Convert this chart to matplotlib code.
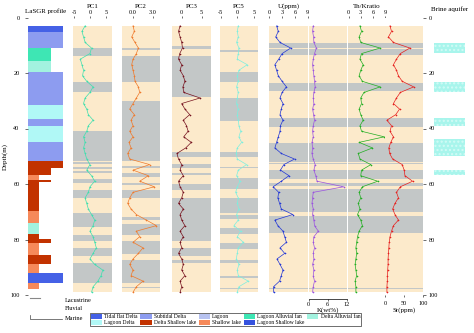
import matplotlib
matplotlib.use("Agg")
from matplotlib import pyplot as plt
from matplotlib.patches import Patch
from matplotlib.lines import Line2D

plt.rcParams['font.family'] = ['Liberation Serif', 'DejaVu Serif']
plt.rcParams['axes.unicode_minus'] = False

# ---- log data ----
depth = [3, 5, 7, 9, 11, 13, 15, 17, 19, 21, 23, 25, 27, 29, 31, 33, 35, 37, 39, 41,
         43, 45, 47, 49, 51, 53, 55, 57, 59, 61, 63, 65, 67, 69, 71, 73, 75, 77, 79, 81,
         83, 85, 87, 89, 91, 93, 95, 97, 99]

pc1 = [-1.5, -2.5, -2.0, -1.5, 0.5, 0.0, -3.0, -2.5, -2.0, -2.3, -1.0, 1.0, 0.0, -1.5, -2.0,
       -1.0, -0.5, 1.0, -0.5, -1.0, -2.0, -1.5, -2.0, -1.5, -1.0, 0.0, -1.0, 0.5, 1.5, 0.0,
       -0.5, -1.5, -1.0, -0.5, 0.5, 1.5, 1.0, 0.0, 1.0, 1.5, 2.0, 1.0, 0.0, 1.5, 4.0,
       3.5, 2.5, 1.0, 0.5]
pc2 = [0.0, 0.2, -0.2, 0.3, 0.8, 0.5, 0.0, -0.2, 0.0, 0.2, 0.3, 0.8, 1.0, 0.5, 0.0,
       -0.5, 0.2, -0.3, 0.0, -0.5, 0.0, -0.6, -0.3, -0.8, -0.5, 2.5, 0.0, 2.3, 1.0, 3.2,
       0.0, -0.5, -0.8, -0.3, 0.5, 2.0, 3.5, 0.5, 1.0, 0.0, 1.5, 0.8, 0.0, -0.5, 0.0,
       -0.3, 1.5, 0.5, 0.0]
pc3 = [-0.4, -0.8, -0.4, 0.0, 0.2, -0.5, -0.8, 0.0, -0.4, 0.4, 0.8, 0.3, 0.5, 4.6, 0.0,
       0.8, 2.0, 0.4, 1.2, 1.6, 0.5, 2.4, 1.0, -1.2, -0.8, 0.0, -0.4, 0.4, -0.8, -0.4,
       0.4, 0.0, -0.8, 0.4, -0.4, 0.0, 0.8, -0.4, 0.4, -0.4, 0.0, -0.8, 0.0, 0.4, 0.0,
       0.8, -0.4, 0.0, -0.4]
pc5 = [0.3, 0.0, 0.3, -0.2, 0.5, 0.3, 0.0, 3.0, 0.5, 0.0, 0.3, -0.2, 0.3, 0.0, -0.2,
       0.3, 0.0, 0.3, 0.5, 1.0, 0.5, 1.3, 0.0, -0.3, 0.0, 2.8, 0.3, -0.2, 0.8, 0.0,
       -0.5, 0.3, 0.0, 0.5, -0.2, 0.3, -1.0, 1.0, 0.0, 1.8, 0.3, 0.0, -0.3, 0.5, 0.0,
       0.3, 3.3, 0.5, 0.0]
u_ppm = [1.7, 2.1, 1.5, 2.5, 5.0, 3.0, 2.2, 1.3, 1.7, 2.1, 3.0, 4.0, 3.0, 2.5, 3.2,
         2.8, 2.5, 3.2, 2.6, 2.5, 2.1, 1.7, 1.3, 2.8, 5.9, 3.4, 2.6, 4.6, 2.8, 0.9,
         2.2, 2.0, 2.4, 2.8, 5.5, 1.3, 2.0, 3.2, 3.6, 4.0, 2.5, 3.6, 1.8, 2.5, 3.2,
         2.8, 2.4, 1.0, 1.0]
k_wt = [1.4, 1.2, 1.5, 1.6, 2.4, 1.8, 1.4, 1.2, 1.4, 1.6, 1.8, 2.0, 1.6, 1.4, 1.6,
        1.2, 1.5, 1.8, 1.4, 1.2, 1.4, 1.0, 1.2, 1.0, 1.4, 2.0, 1.6, 2.2, 2.6, 11.0,
        1.4, 1.2, 1.0, 1.4, 1.2, 1.6, 1.8, 3.0, 1.6, 1.4, 1.8, 1.4, 1.6, 1.2, 1.6,
        1.4, 1.8, 1.4, 1.2]
th_k = [2.8, 3.2, 2.6, 3.0, 7.8, 3.2, 2.8, 3.6, 3.0, 2.6, 3.4, 7.8, 3.8, 3.0, 3.2,
        2.6, 3.0, 3.6, 2.8, 3.2, 8.8, 2.6, 5.9, 2.4, 2.8, 5.5, 3.2, 3.0, 7.2, 3.4,
        2.6, 3.0, 2.4, 2.8, 2.2, 3.0, 3.4, 2.6, 2.2, 2.0, 1.8, 2.0, 1.8, 1.6, 1.8,
        2.0, 1.6, 1.8, 1.8]
sr_ppm = [13, 17, 9, 22, 65, 40, 30, 22, 30, 35, 45, 75, 40, 30, 22, 38, 28, 5, 17, 13,
          22, 15, 10, 12, 20, 45, 50, 52, 72, 40, 30, 35, 26, 20, 26, 35, 22, 17, 13, 11,
          10, 9, 8, 8, 7, 6, 6, 5, 5]

# gray (cluster) intervals per track: (top, bottom) depth in m
pc1_bands = [(10.9, 13.8), (23.4, 27.0), (40.9, 51.6), (52.2, 52.9), (53.8, 54.6),
             (55.2, 55.9), (58.3, 59.8), (62.2, 65.2), (70.3, 75.4), (78.4, 80.5),
             (83.2, 85.9), (88.6, 95.8)]
pc2_bands = [(10.9, 11.7), (13.8, 23.1), (30.1, 51.6), (53.4, 54.4), (55.9, 57.4),
             (59.5, 60.4), (62.2, 65.2), (71.8, 73.0), (74.4, 78.4), (80.5, 85.3),
             (87.4, 95.8), (97.0, 97.6)]
pc3_bands = [(10.3, 11.5), (13.8, 28.8), (48.3, 50.1), (52.8, 54.4), (55.9, 56.8),
             (60.1, 62.2), (64.9, 80.5), (83.2, 85.9), (87.4, 88.6)]
pc5_bands = [(11.7, 12.3), (19.5, 23.4), (28.9, 37.3), (48.6, 50.1), (53.8, 54.4),
             (57.7, 61.9), (64.9, 70.3), (71.2, 72.6), (76.0, 78.1), (81.4, 83.5),
             (87.4, 88.6), (93.0, 94.0), (97.6, 98.0)]
geo_bands = [(9.1, 11.1), (11.4, 13.5), (23.5, 26.4), (36.1, 39.6), (45.1, 51.9),
             (52.6, 52.9), (55.0, 58.3), (59.8, 60.6), (61.9, 70.0), (71.5, 77.8),
             (97.6, 98.0)]

# brine aquifer intervals
brine_top = [9.1, 23.4, 36.1, 43.9, 55.0]
brine_bottom = [12.9, 26.7, 39.1, 49.9, 56.8]

# lithology (LaSGR profile)
litho_top = [2.9, 5.3, 10.9, 15.6, 19.5, 31.5, 36.6, 39.1, 44.7, 51.6, 54.3, 56.8,
             58.6, 59.4, 69.9, 74.2, 78.1, 79.8, 81.1, 85.6, 88.9, 92.2, 95.8]
litho_bottom = [5.3, 10.9, 15.6, 19.5, 31.5, 36.6, 39.1, 44.7, 51.6, 54.3, 56.8, 58.6,
                59.4, 69.9, 74.2, 78.1, 79.8, 81.1, 85.6, 88.9, 92.2, 95.8, 98.0]
litho_grain = [1.0, 1.0, 0.67, 0.67, 1.0, 1.0, 1.0, 1.0, 1.0, 1.0, 0.67, 0.32,
               0.67, 0.32, 0.32, 0.32, 0.32, 0.67, 0.32, 0.67, 0.32, 1.0, 0.32]
litho_facies = ['Tidal flat Delta', 'Subtidal Delta', 'Lagoon Alluvial fan',
                'Delta Alluvial fan', 'Subtidal Delta', 'Lagoon Delta', 'Subtidal Delta',
                'Lagoon Delta', 'Subtidal Delta', 'Delta Shallow lake', 'Delta Shallow lake',
                'Shallow lake', 'Delta Shallow lake', 'Delta Shallow lake', 'Shallow lake',
                'Delta Alluvial fan', 'Delta Shallow lake', 'Delta Shallow lake',
                'Shallow lake', 'Delta Shallow lake', 'Shallow lake', 'Tidal flat Delta',
                'Shallow lake']

facies_colors = {
    'Tidal flat Delta': '#4561E6',
    'Subtidal Delta': '#8D9CF0',
    'Lagoon': '#B7C2F0',
    'Lagoon Alluvial fan': '#3EE6B4',
    'Delta Alluvial fan': '#A2F2DF',
    'Lagoon Delta': '#B0F8F6',
    'Delta Shallow lake': '#C23200',
    'Shallow lake': '#F6895A',
    'Lagoon Shallow lake': '#3552DE',
}

TAN = '#FCEACB'
GRAY = '#C3C7C7'
W, H = 474, 333
Y_TOP, Y_BOT = 17.5, 295

fig = plt.figure(figsize=(W / 100, H / 100), dpi=100)


def add_track(x0, x1):
    return fig.add_axes([x0 / W, 1 - Y_BOT / H, (x1 - x0) / W, (Y_BOT - Y_TOP) / H])


def style_track(ax, bands):
    ax.axhspan(3, 99, color=TAN, lw=0, zorder=0)
    for top, bot in bands:
        ax.axhspan(top, bot, color=GRAY, lw=0, zorder=1)
    ax.set_ylim(100, 0)
    for s in ax.spines.values():
        s.set_visible(False)
    ax.set_yticks([])
    ax.tick_params(axis='x', labelsize=4.5, length=1.5, width=0.4, pad=0.5)


def top_axis(ax, title, ticks, labels=None):
    ax.xaxis.tick_top()
    ax.set_xticks(ticks)
    if labels:
        ax.set_xticklabels(labels)
    ax.set_title(title, fontsize=5, pad=1.5)


def draw_curve(ax, values, color):
    ax.plot(values, depth, color=color, lw=0.5, marker='+', ms=2, mew=0.4, zorder=3)


# lithology column
ax_l = add_track(28, 63)
ax_l.barh(litho_top, litho_grain,
          height=[b - t for t, b in zip(litho_top, litho_bottom)],
          align='edge', color=[facies_colors[f] for f in litho_facies], lw=0)
ax_l.set_xlim(0, 1)
ax_l.set_ylim(100, 0)
for s in ax_l.spines.values():
    s.set_visible(False)
ax_l.set_xticks([])
ax_l.set_yticks([0, 20, 40, 60, 80, 100])
ax_l.tick_params(axis='y', labelsize=4.5, length=2, width=0.4, pad=4)
ax_l.set_ylabel('Depth(m)', fontsize=5, labelpad=2)
ax_l.set_title('LaSGR profile', fontsize=5, pad=3)

# PCA tracks
ax1 = add_track(73.3, 112.3)
style_track(ax1, pc1_bands)
draw_curve(ax1, pc1, '#3EDFAE')
ax1.set_xlim(-5.2, 7.0)
top_axis(ax1, 'PC1', [-5, 0, 5])

ax2 = add_track(121.7, 160)
style_track(ax2, pc2_bands)
draw_curve(ax2, pc2, '#EF7A2C')
ax2.set_xlim(-1.7, 4.05)
top_axis(ax2, 'PC2', [0, 3], ['0.0', '3.0'])

ax3 = add_track(172.3, 210.7)
style_track(ax3, pc3_bands)
draw_curve(ax3, pc3, '#76121E')
ax3.set_xlim(-2.35, 7.25)
top_axis(ax3, 'PC3', [0, 5])

ax5 = add_track(220, 257.7)
style_track(ax5, pc5_bands)
draw_curve(ax5, pc5, '#7DEFDF')
ax5.set_xlim(-5.2, 6.15)
top_axis(ax5, 'PC5', [-5, 0, 5])

# geochemistry tracks
ax_u = add_track(269.3, 307.8)
style_track(ax_u, geo_bands)
draw_curve(ax_u, u_ppm, '#2136D6')
ax_u.set_xlim(0, 9)
top_axis(ax_u, 'U(ppm)', [0, 3, 6, 9])

ax_k = add_track(308.8, 346.8)
style_track(ax_k, geo_bands)
draw_curve(ax_k, k_wt, '#9A52E0')
ax_k.set_xlim(0, 12)
ax_k.set_xticks([0, 6, 12])
ax_k.spines['bottom'].set_visible(True)
ax_k.spines['bottom'].set_linewidth(0.5)
ax_k.spines['bottom'].set_position(('outward', 3))
ax_k.set_xlabel('K(wt%)', fontsize=5, labelpad=0.5)

ax_t = add_track(347.8, 385)
style_track(ax_t, geo_bands)
draw_curve(ax_t, th_k, '#22AE22')
ax_t.set_xlim(-0.2, 9)
top_axis(ax_t, 'Th/Kratio', [0, 3, 6, 9])

ax_s = add_track(385, 423.3)
style_track(ax_s, geo_bands)
draw_curve(ax_s, sr_ppm, '#E6201E')
ax_s.set_xlim(0, 100)
ax_s.set_xticks([0, 50, 100])
ax_s.tick_params(axis='x', pad=3)
ax_s.set_xlabel('Sr(ppm)', fontsize=5, labelpad=0.5)
ax_s.yaxis.tick_right()
ax_s.set_yticks([0, 20, 40, 60, 80, 100])
ax_s.tick_params(axis='y', labelsize=4.5, length=2, width=0.4, pad=2)

# brine aquifer column
ax_b = add_track(434, 465)
ax_b.barh(brine_top, 1, height=[b - t for t, b in zip(brine_top, brine_bottom)],
          align='edge', color='#A8F5EC', edgecolor='#D2FBF6', hatch='....', lw=0)
ax_b.set_xlim(0, 1)
ax_b.set_ylim(100, 0)
ax_b.axis('off')
ax_b.set_title('Brine aquifer', fontsize=5, pad=5)

# environment scale at lower left
fig.add_artist(Line2D([30 / W, 40 / W], [1 - 298 / H] * 2, color='#888888', lw=0.8))
fig.add_artist(Line2D([30 / W, 30 / W, 62 / W], [1 - 315 / H, 1 - 319 / H, 1 - 319 / H],
                      color='#444444', lw=0.5))
for label, yp in [('Lacustrine', 300), ('Fluvial', 309), ('Marine', 319)]:
    fig.text(65 / W, 1 - yp / H, label, fontsize=4.5, va='center')

# facies legend (row-wise order)
order = ['Tidal flat Delta', 'Lagoon Delta', 'Subtidal Delta', 'Delta Shallow lake',
         'Lagoon', 'Shallow lake', 'Lagoon Alluvial fan', 'Lagoon Shallow lake',
         'Delta Alluvial fan']
handles = [Patch(facecolor=facies_colors[n], edgecolor='none') for n in order]
leg = fig.legend(handles, order, ncol=5, loc='upper left',
                 bbox_to_anchor=(90 / W, 1 - 313 / H), fontsize=4,
                 frameon=True, fancybox=False, edgecolor='black',
                 handlelength=2.0, handleheight=0.9, handletextpad=0.4,
                 columnspacing=0.5, borderpad=0.15, labelspacing=0.1,
                 borderaxespad=0)
leg.get_frame().set_linewidth(0.5)

fig.savefig('out.png', dpi=100)
